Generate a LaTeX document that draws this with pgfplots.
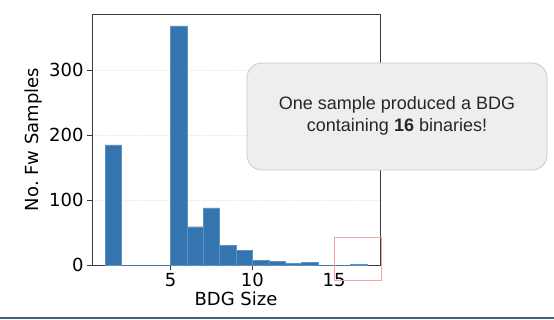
\documentclass[border=0pt]{standalone}
\usepackage{pgfplots}
\pgfplotsset{compat=1.18}
\usepackage{fontspec}
\setmainfont{DejaVu Sans}
\newfontfamily\boxfont{Liberation Sans}
\definecolor{barblue}{RGB}{52,117,175}
\definecolor{spine}{RGB}{60,60,60}
\definecolor{boxfill}{RGB}{238,238,238}
\definecolor{boxedge}{RGB}{200,200,200}
\definecolor{redbox}{RGB}{255,160,160}
\definecolor{bottomline}{RGB}{70,95,125}
\begin{document}
\begin{tikzpicture}
\path[use as bounding box] (-92bp,-55bp) rectangle (462bp,265bp);
\begin{axis}[
  at={(0,0)}, anchor=south west,
  scale only axis, width=288bp, height=251bp,
  xmin=0.2, xmax=17.8, ymin=0, ymax=386.4,
  xtick={5,10,15}, ytick={0,100,200,300},
  xtick pos=bottom, ytick pos=left,
  tick align=outside, major tick length=5bp,
  tick style={spine, line width=0.8bp},
  axis line style={spine, line width=0.8bp},
  ymajorgrids, grid style={densely dotted, black!7, line width=0.6bp},
  tick label style={font=\fontsize{18bp}{20bp}\selectfont},
  label style={font=\fontsize{18bp}{20bp}\selectfont},
  /pgf/number format/assume math mode=true,
  xlabel={BDG Size}, ylabel={No.\ Fw Samples},
  xlabel style={yshift=2bp},
  ylabel style={yshift=0bp},
  clip=false,
]
\addplot[ybar interval, fill=barblue, draw=barblue!80!white, line width=0.3bp] coordinates {
 (1,185) (2,0) (3,0) (4,0) (5,368) (6,59) (7,88) (8,30) (9,23) (10,7)
 (11,6) (12,3) (13,4) (14,0) (15,0) (16,1) (17,1)
};
\draw[redbox, line width=0.8bp] (axis cs:15,42) rectangle (axis cs:17.9,-24);
\end{axis}
\draw[boxedge, fill=boxfill, rounded corners=15bp, line width=0.8bp] (155bp,95bp) rectangle (455bp,202bp);
\node[font=\boxfont\fontsize{18bp}{22bp}\selectfont, text=black!85, align=center] at (305bp,149bp)
  {One sample produced a BDG\\containing \textbf{16} binaries!};
\draw[bottomline, line width=1.2bp] (-92bp,-53bp) -- (462bp,-53bp);
\end{tikzpicture}
\end{document}
